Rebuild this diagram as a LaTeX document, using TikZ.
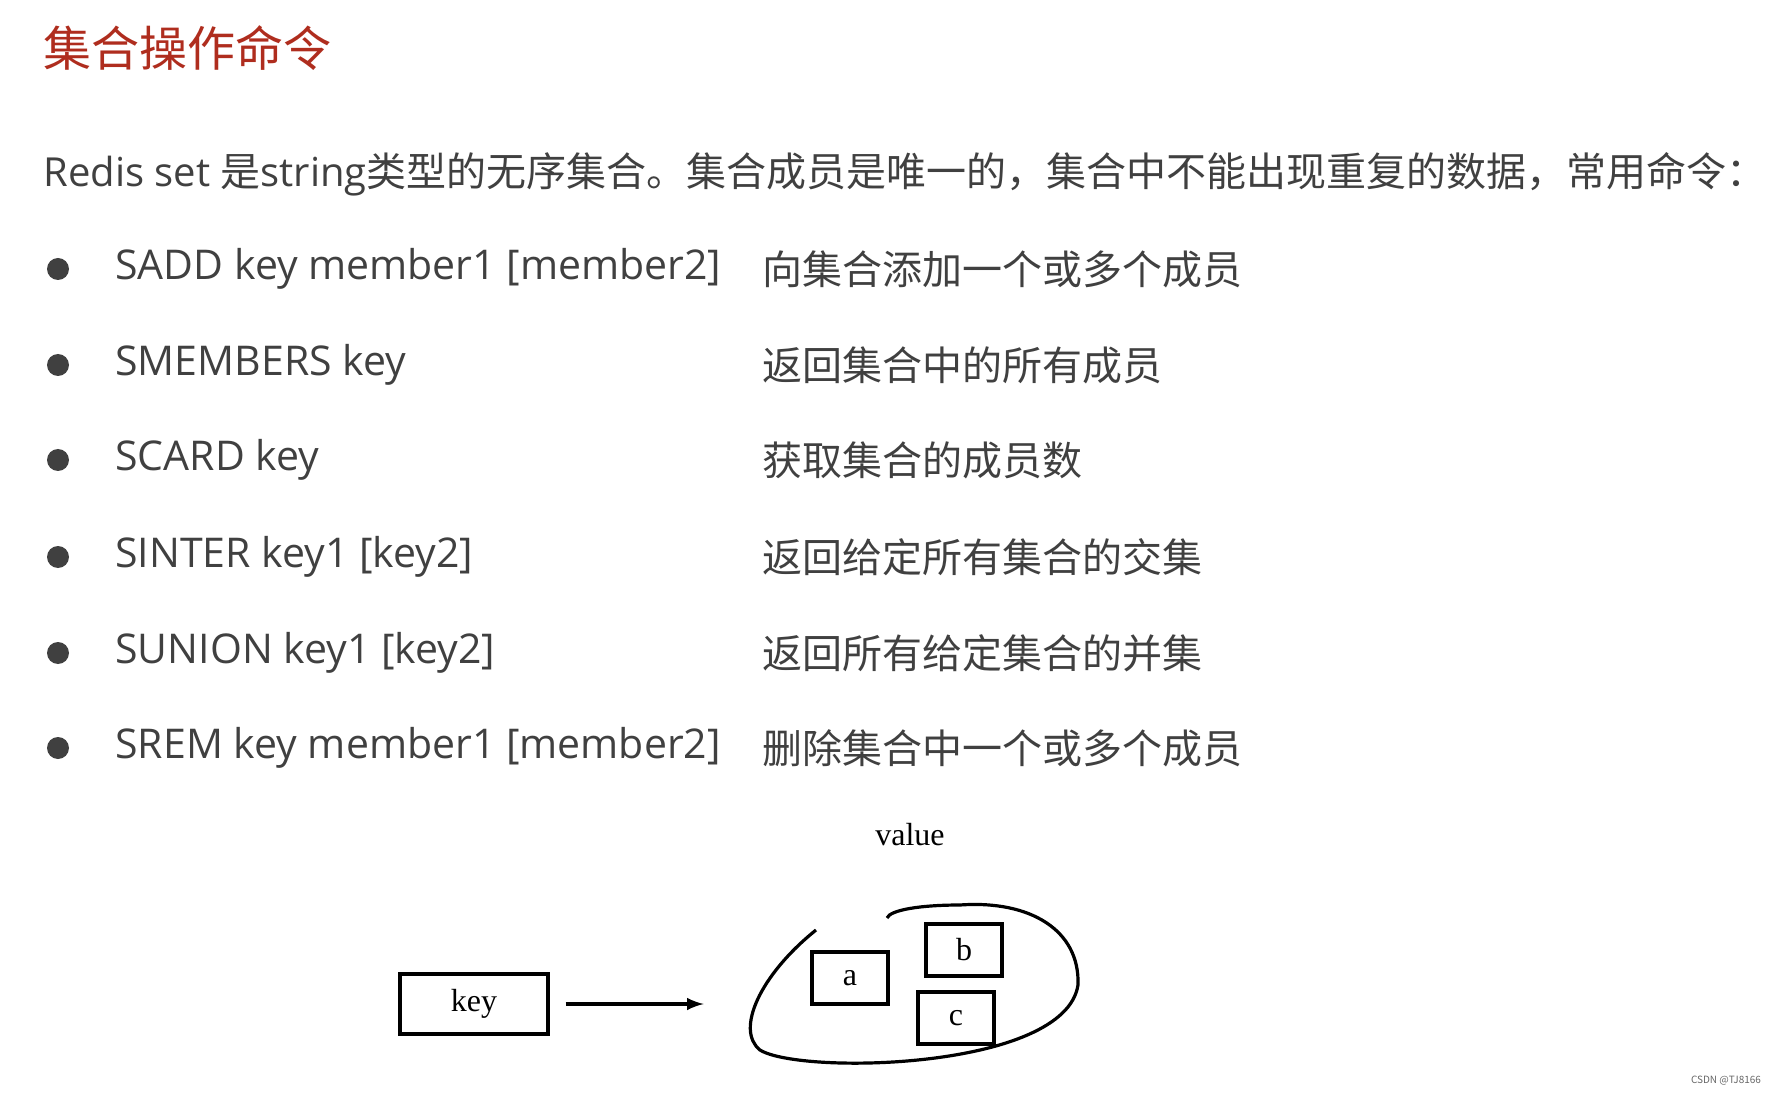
\documentclass[tikz,border=0pt]{standalone}
\usepackage{fontspec}
\setmainfont{Noto Sans CJK SC}
\newfontfamily\hand{Liberation Serif}
\newfontfamily\lat{Open Sans}
\begin{document}
\begin{tikzpicture}[x=0.5pt,y=-0.5pt,
  txt/.style={anchor=west,text=black!75,font=\fontsize{20}{22}\selectfont,inner sep=0},
  bul/.style={circle,fill=black!75,minimum size=11pt,inner sep=0},
  el/.style={draw,line width=1.6pt,minimum width=38pt,minimum height=26pt,font=\hand\fontsize{16}{18}\selectfont,inner sep=0}]
\useasboundingbox (0,0) rectangle (1783,1096);
\node[anchor=west,text={rgb,255:red,175;green,45;blue,30},font=\fontsize{24}{26}\selectfont,inner sep=0] (title) at (43,48) {集合操作命令};
\node[txt] (intro) at (43,174) {{\lat Redis set }是{\lat string}类型的无序集合。集合成员是唯一的，集合中不能出现重复的数据，常用命令：};
\foreach \i/\y/\c/\d in {1/269/SADD key member1 [member2]/向集合添加一个或多个成员,
  2/365/SMEMBERS key/返回集合中的所有成员,
  3/460/SCARD key/获取集合的成员数,
  4/557/SINTER key1 [key2]/返回给定所有集合的交集,
  5/653/SUNION key1 [key2]/返回所有给定集合的并集,
  6/748/SREM key member1 [member2]/删除集合中一个或多个成员}{
  \node[bul] (b\i) at (58,\y) {};
  \node[txt,font=\lat\fontsize{20.5}{22}\selectfont] (c\i) at (115,\y) {\c};
  \node[txt] (d\i) at (762,\y) {\d};
}
\node[font=\hand\fontsize{16}{18}\selectfont] (value) at (910,835) {value};
\node[el,minimum width=74pt,minimum height=30pt] (key) at (474,1004) {key};
\node[el] (a) at (850,978) {a};
\node[el] (b) at (964,950) {b};
\node[el] (c) at (956,1018) {c};
\draw[line width=1.8pt,-latex] (key.east)++(16,0) coordinate (s) -- ++(138,0) coordinate (t);
\draw[line width=1.6pt] (816,930) .. controls (760,975) and (735,1030) .. (760,1050)
  .. controls (800,1075) and (1065,1070) .. (1078,985)
  .. controls (1080,930) and (1030,900) .. (960,905)
  .. controls (920,905) and (890,910) .. (887,918);
\node[font=\fontsize{5}{6}\selectfont,text=black!60] (wm) at (1726,1081) {CSDN @TJ8166};
\end{tikzpicture}
\end{document}
